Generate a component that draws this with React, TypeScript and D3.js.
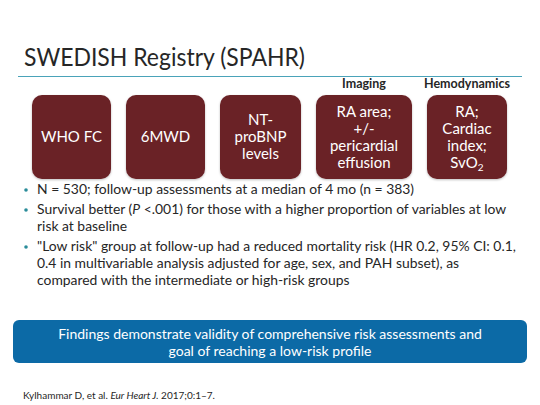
import * as d3 from "d3";

// slide content
const title = "SWEDISH Registry (SPAHR)";
const boxLabels: string[][] = [
  ["WHO FC"],
  ["6MWD"],
  ["NT-", "proBNP", "levels"],
  ["RA area;", "+/-", "pericardial", "effusion"],
  ["RA;", "Cardiac", "index;", "SvO|2"],
];
const groupLabels = ["", "", "", "Imaging", "Hemodynamics"];
const boxWeights = [79, 79, 81, 96, 80];

const bullets: string[][] = [
  ["N = 530; follow-up assessments at a median of 4 mo (n = 383)"],
  [
    "Survival better (*P* <.001) for those with a higher proportion of variables at low",
    "risk at baseline",
  ],
  [
    "\"Low risk\" group at follow-up had a reduced mortality risk (HR 0.2, 95% CI: 0.1,",
    "0.4 in multivariable analysis adjusted for age, sex, and PAH subset), as",
    "compared with the intermediate or high-risk groups",
  ],
];
const findings = [
  "Findings demonstrate validity of comprehensive risk assessments and",
  "goal of reaching a low-risk profile",
];
const citation = "Kylhammar D, et al. *Eur Heart J.* 2017;0:1–7.";

const W = 540;
const H = 405;
const FONT = "Lato, 'Open Sans', sans-serif";
const MAROON = "#6a2226";
const BLUE = "#0c6aa6";
const TEAL = "#4aa3b9";
const TEXT = "#262626";

// split "*italic*" markers into tspans
function rich(s: string) {
  return s.split("*").map((part, i) => (
    <tspan key={i} fontStyle={i % 2 ? "italic" : "normal"}>
      {part}
    </tspan>
  ));
}

// "SvO|2" -> subscript after the bar
function sub(s: string) {
  const [main, low] = s.split("|");
  if (low === undefined) return main;
  return (
    <>
      {main}
      <tspan fontSize={10} dy={3}>
        {low}
      </tspan>
    </>
  );
}

export default function App() {
  const gap = 15;
  const total = d3.sum(boxWeights) + gap * (boxWeights.length - 1);
  const x = d3.scaleLinear().domain([0, total]).range([32, 32 + total]);
  const lefts = boxWeights.map((_, i) => x(d3.sum(boxWeights.slice(0, i)) + gap * i));
  const boxTop = 95;
  const boxBottom = 179;
  const boxMid = (boxTop + boxBottom) / 2;
  const lineH = 17;

  // bullet lines
  let yCursor = 194;
  const bulletRows: { text: string; y: number; first: boolean }[] = [];
  bullets.forEach((para) => {
    para.forEach((t, j) => {
      bulletRows.push({ text: t, y: yCursor, first: j === 0 });
      yCursor += lineH;
    });
    yCursor += 3;
  });

  return (
    <svg
      width={W}
      height={H}
      viewBox={`0 0 ${W} ${H}`}
      style={{ position: "absolute", left: 0, top: 0, background: "#fff" }}
      fontFamily={FONT}
    >
      <defs>
        <filter id="sh" x="-10%" y="-10%" width="120%" height="125%">
          <feDropShadow dx="0" dy="1" stdDeviation="1" floodColor="#000" floodOpacity="0.25" />
        </filter>
      </defs>

      <text x={24} y={66} fontSize={25} fill={TEXT} textLength={281} lengthAdjust="spacingAndGlyphs">
        {title}
      </text>
      <line x1={18} x2={522} y1={76.5} y2={76.5} stroke={TEAL} strokeWidth={1.2} />

      {boxLabels.map((lines, i) => {
        const w = boxWeights[i];
        const cx = lefts[i] + w / 2;
        const y0 = boxMid - ((lines.length - 1) * lineH) / 2;
        return (
          <g key={i}>
            {groupLabels[i] && (
              <text x={cx} y={88} textAnchor="middle" fontSize={12.5} fontWeight={700} fill={TEXT}>
                {groupLabels[i]}
              </text>
            )}
            <rect
              x={lefts[i]}
              y={boxTop}
              width={w}
              height={boxBottom - boxTop}
              rx={10}
              fill={MAROON}
              filter="url(#sh)"
            />
            {lines.map((l, j) => (
              <text
                key={j}
                x={cx}
                y={y0 + j * lineH}
                dy="0.36em"
                textAnchor="middle"
                fontSize={15}
                fill="#fff"
              >
                {sub(l)}
              </text>
            ))}
          </g>
        );
      })}

      {bulletRows.map((r, i) => (
        <g key={i}>
          {r.first && <circle cx={26} cy={r.y - 4} r={1.8} fill="#2a8c9a" />}
          <text x={37} y={r.y} fontSize={13.9} fill={TEXT}>
            {rich(r.text)}
          </text>
        </g>
      ))}

      <rect x={13} y={320} width={514} height={43} rx={6} fill={BLUE} />
      {findings.map((t, i) => (
        <text key={i} x={270} y={339 + i * 17} textAnchor="middle" fontSize={14} fill="#fff">
          {t}
        </text>
      ))}

      <text x={23} y={399} fontSize={10} fill={TEXT}>
        {rich(citation)}
      </text>
    </svg>
  );
}
